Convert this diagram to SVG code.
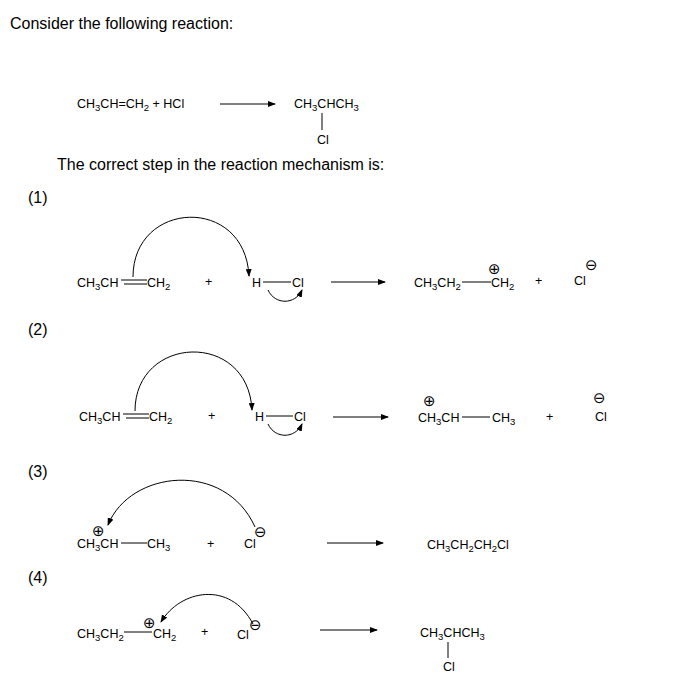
<svg xmlns="http://www.w3.org/2000/svg" width="699" height="692" viewBox="0 0 699 692">
<defs><marker id="ah" markerWidth="8" markerHeight="6" refX="7" refY="3" orient="auto" markerUnits="userSpaceOnUse"><path d="M0,0L8,3L0,6z" fill="#000"/></marker>
<style>text{font-family:"Liberation Sans",Arial,sans-serif;fill:#000}.c{font-size:12.5px}.h{font-size:16px}.s{font-size:9.5px}.ch{font-size:15px;font-family:"DejaVu Sans",sans-serif}line,path.l{stroke:#000;stroke-width:1;fill:none}</style></defs>
<rect width="699" height="692" fill="#fff"/>
<text class="h" x="10" y="29">Consider the following reaction:</text>
<g id="top"><text class="c" x="77" y="108">CH<tspan class="s" dy="3">3</tspan><tspan dy="-3">CH=CH</tspan><tspan class="s" dy="3">2</tspan><tspan dy="-3">  +  HCl</tspan></text>
<text class="c" x="294" y="108">CH<tspan class="s" dy="3">3</tspan><tspan dy="-3">CHCH</tspan><tspan class="s" dy="3">3</tspan></text>
<line x1="322" y1="113" x2="322" y2="130"/><text class="c" x="317" y="144">Cl</text></g>
<text class="h" x="57" y="170">The correct step in the reaction mechanism is:</text>
<text class="h" x="28" y="203">(1)</text><text class="h" x="28" y="335">(2)</text><text class="h" x="28" y="477">(3)</text><text class="h" x="28" y="583">(4)</text>
<g id="connectors">
<line x1="220" y1="104" x2="275" y2="104" marker-end="url(#ah)"/>
<line x1="331" y1="282" x2="385" y2="282" marker-end="url(#ah)"/>
<line x1="333" y1="417" x2="388" y2="417" marker-end="url(#ah)"/>
<line x1="327" y1="543" x2="383" y2="543" marker-end="url(#ah)"/>
<line x1="320" y1="630" x2="377" y2="630" marker-end="url(#ah)"/>
<path class="l" d="M133,277 C133,200 245,195 249,276" marker-end="url(#ah)"/>
<path class="l" d="M268,290 C275,305 295,305 302,290" marker-end="url(#ah)"/>
<path class="l" d="M135,411 C135,335 248,330 252,410" marker-end="url(#ah)"/>
<path class="l" d="M268,424 C275,439 295,439 302,424" marker-end="url(#ah)"/>
<path class="l" d="M255,527 C225,460 130,470 108,525" marker-end="url(#ah)"/>
<path class="l" d="M253,624 C230,580 180,590 161,622" marker-end="url(#ah)"/>
</g>
<g id="r1">
<text class="c" x="77" y="287">CH<tspan class="s" dy="3">3</tspan><tspan dy="-3">CH</tspan></text>
<line x1="121" y1="280" x2="147" y2="280"/><line x1="124" y1="284" x2="147" y2="284"/>
<text class="c" x="147" y="287">CH<tspan class="s" dy="3">2</tspan></text>
<text class="c" x="205" y="286">+</text>
<text class="c" x="252" y="287">H</text><line x1="263" y1="282" x2="291" y2="282"/><text class="c" x="292" y="287">Cl</text>
<text class="c" x="414" y="287">CH<tspan class="s" dy="3">3</tspan><tspan dy="-3">CH</tspan><tspan class="s" dy="3">2</tspan></text>
<line x1="462" y1="282" x2="491" y2="282"/><text class="c" x="491" y="287">CH<tspan class="s" dy="3">2</tspan></text>
<text class="ch" x="488" y="274">⊕</text>
<text class="c" x="535" y="285">+</text><text class="c" x="574" y="285">Cl</text><text class="ch" x="585" y="270">⊖</text>
</g>
<g id="r2">
<text class="c" x="79" y="421">CH<tspan class="s" dy="3">3</tspan><tspan dy="-3">CH</tspan></text>
<line x1="123" y1="414" x2="149" y2="414"/><line x1="126" y1="418" x2="149" y2="418"/>
<text class="c" x="149" y="421">CH<tspan class="s" dy="3">2</tspan></text>
<text class="c" x="208" y="420">+</text>
<text class="c" x="255" y="421">H</text><line x1="266" y1="416" x2="293" y2="416"/><text class="c" x="294" y="421">Cl</text>
<text class="ch" x="423" y="406">⊕</text>
<text class="c" x="418" y="422">CH<tspan class="s" dy="3">3</tspan><tspan dy="-3">CH</tspan></text>
<line x1="462" y1="417" x2="490" y2="417"/><text class="c" x="492" y="422">CH<tspan class="s" dy="3">3</tspan></text>
<text class="c" x="546" y="421">+</text><text class="c" x="595" y="421">Cl</text><text class="ch" x="593" y="403">⊖</text>
</g>
<g id="r3">
<text class="ch" x="92" y="536">⊕</text>
<text class="c" x="77" y="548">CH<tspan class="s" dy="3">3</tspan><tspan dy="-3">CH</tspan></text>
<line x1="121" y1="543" x2="147" y2="543"/><text class="c" x="147" y="548">CH<tspan class="s" dy="3">3</tspan></text>
<text class="c" x="207" y="548">+</text><text class="c" x="244" y="548">Cl</text><text class="ch" x="254" y="537">⊖</text>
<text class="c" x="427" y="549">CH<tspan class="s" dy="3">3</tspan><tspan dy="-3">CH</tspan><tspan class="s" dy="3">2</tspan><tspan dy="-3">CH</tspan><tspan class="s" dy="3">2</tspan><tspan dy="-3">Cl</tspan></text>
</g>
<g id="r4">
<text class="c" x="77" y="638">CH<tspan class="s" dy="3">3</tspan><tspan dy="-3">CH</tspan><tspan class="s" dy="3">2</tspan></text>
<line x1="124" y1="632" x2="152" y2="632"/><text class="c" x="153" y="638">CH<tspan class="s" dy="3">2</tspan></text>
<text class="ch" x="143" y="628">⊕</text>
<text class="c" x="201" y="636">+</text><text class="c" x="237" y="639">Cl</text><text class="ch" x="249" y="630">⊖</text>
<text class="c" x="420" y="637">CH<tspan class="s" dy="3">3</tspan><tspan dy="-3">CHCH</tspan><tspan class="s" dy="3">3</tspan></text>
<line x1="448" y1="642" x2="448" y2="658"/><text class="c" x="443" y="671">Cl</text>
</g>
</svg>
